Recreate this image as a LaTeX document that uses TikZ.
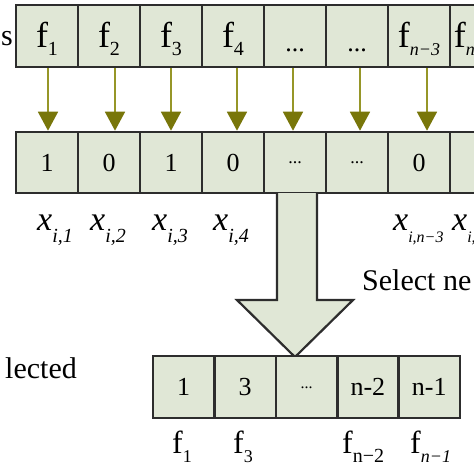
\documentclass[tikz,border=0pt]{standalone}
\usepackage{fontspec}
\setmainfont{Liberation Serif}
\usetikzlibrary{arrows.meta}
\definecolor{cellfill}{RGB}{224,231,214}
\definecolor{cellline}{RGB}{45,45,45}
\definecolor{oliveA}{RGB}{150,150,40}
\definecolor{oliveB}{RGB}{120,118,10}
\newcommand{\fsz}[1]{\fontsize{#1}{#1}\selectfont}
\begin{document}
\begin{tikzpicture}[x=1pt,y=-1pt,
 cell/.style={draw=cellline, fill=cellfill, line width=2.6pt, minimum width=62pt, minimum height=62pt, inner sep=0pt},
 toprow/.style={cell, font=\fsz{36}, text height=26pt, text depth=4pt},
 midrow/.style={cell, minimum height=61pt, font=\fsz{26}},
 botrow/.style={cell, minimum width=61.4pt, font=\fsz{26}},
 arr/.style={draw=oliveA, line width=1.6pt, -{Triangle[width=20pt,length=19pt,fill=oliveB,color=oliveB]}},
 lbl/.style={inner sep=0pt, anchor=base west},
 big/.style={font=\fsz{30}, inner sep=0pt},
 bigarrow/.style={draw=cellline, fill=cellfill, line width=2.2pt, line join=miter}]
\useasboundingbox (0,0) rectangle (474,474);
\clip (0,0) rectangle (474,474);
\fill[white] (0,0) rectangle (474,474);
% top row
\node[toprow] (t1) at (47,36) {f\raisebox{-8pt}{\fsz{20}1}};
\node[toprow] (t2) at (109,36) {f\raisebox{-8pt}{\fsz{20}2}};
\node[toprow] (t3) at (171,36) {f\raisebox{-8pt}{\fsz{20}3}};
\node[toprow] (t4) at (233,36) {f\raisebox{-8pt}{\fsz{20}4}};
\node[toprow] (t5) at (295,36) {\raisebox{-4pt}{\fsz{26}...}};
\node[toprow] (t6) at (357,36) {\raisebox{-4pt}{\fsz{26}...}};
\node[toprow] (t7) at (419,36) {f\raisebox{-8pt}{\fsz{18}\itshape n−3}};
\node[toprow] (t8) at (481,36) {\hspace*{-12pt}f\raisebox{-8pt}{\fsz{18}\itshape n−2}};
% middle row
\node[midrow] (s1) at (47,162.5) {1};
\node[midrow] (s2) at (109,162.5) {0};
\node[midrow] (s3) at (171,162.5) {1};
\node[midrow] (s4) at (233,162.5) {0};
\node[midrow] (s5) at (295,162.5) {{\fsz{18}...}};
\node[midrow] (s6) at (357,162.5) {{\fsz{18}...}};
\node[midrow] (s7) at (419,162.5) {0};
\node[midrow] (s8) at (481,162.5) {};
% small arrows
\draw[arr] ([xshift=1pt]t1.south) -- ([xshift=1pt]s1.north);
\draw[arr] ([xshift=6pt]t2.south) -- ([xshift=6pt]s2.north);
\draw[arr] (t3.south) -- (s3.north);
\draw[arr] ([xshift=4pt]t4.south) -- ([xshift=4pt]s4.north);
\draw[arr] ([xshift=-2pt]t5.south) -- ([xshift=-2pt]s5.north);
\draw[arr] ([xshift=3pt]t6.south) -- ([xshift=3pt]s6.north);
\draw[arr] ([xshift=8pt]t7.south) -- ([xshift=8pt]s7.north);
% x labels
\node[lbl] (x1) at (37,230) {\fsz{34}\itshape x\raisebox{-12pt}{\fsz{20}i,1}};
\node[lbl] (x2) at (90,230) {\fsz{34}\itshape x\raisebox{-12pt}{\fsz{20}i,2}};
\node[lbl] (x3) at (152,230) {\fsz{34}\itshape x\raisebox{-12pt}{\fsz{20}i,3}};
\node[lbl] (x4) at (213,230) {\fsz{34}\itshape x\raisebox{-12pt}{\fsz{20}i,4}};
\node[lbl] (x7) at (393,230) {\fsz{34}\itshape x\raisebox{-12pt}{\fsz{16}i,n−3}};
\node[lbl] (x8) at (452,230) {\fsz{34}\itshape x\raisebox{-12pt}{\fsz{16}i,n−2}};
% big arrow
\draw[bigarrow] (277,193) -- (277,300) -- (237,300) -- (295,357) -- (353,300) -- (317,300) -- (317,193);
% bottom row
\node[botrow] (b1) at (183.7,387) {1};
\node[botrow] (b2) at (245.1,387) {3};
\node[botrow] (b3) at (306.5,387) {\raisebox{-4pt}{\fsz{16}...}};
\node[botrow] (b4) at (367.9,387) {n-2};
\node[botrow] (b5) at (429.3,387) {n-1};
% bottom labels
\node[lbl] (f1) at (172,453) {\fsz{32}f\raisebox{-9pt}{\fsz{18}1}};
\node[lbl] (f3) at (233,453) {\fsz{32}f\raisebox{-9pt}{\fsz{18}3}};
\node[lbl] (fn2) at (342,453) {\fsz{32}f\raisebox{-9pt}{\fsz{20}n−2}};
\node[lbl] (fn1) at (410,453) {\fsz{32}f\raisebox{-9pt}{\fsz{18}\itshape n−1}};
% side texts
\node[big, anchor=base east] (ts) at (13,45) {s};
\node[big, anchor=base east] (tl) at (77,378) {lected};
\node[big, anchor=base west] (tsel) at (362,290) {Select ne};
\end{tikzpicture}
\end{document}
